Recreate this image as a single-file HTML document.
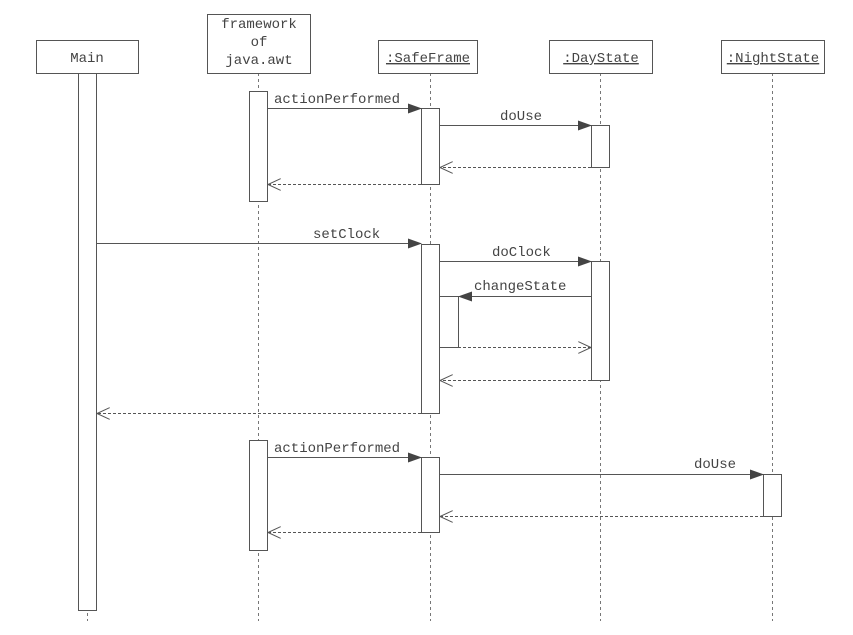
<!DOCTYPE html>
<html><head><meta charset="utf-8"><style>
html,body{margin:0;padding:0;background:#fff;}
svg{display:block;}
text{font-family:"Liberation Mono",monospace;font-size:14px;fill:#444;}
</style></head><body>
<svg width="853" height="635" viewBox="0 0 853 635" xmlns="http://www.w3.org/2000/svg">
<defs>
<marker id="f" markerWidth="14" markerHeight="10" refX="13" refY="5" orient="auto" markerUnits="userSpaceOnUse"><path d="M0,0 L14,5 L0,10 z" fill="#444"/></marker>
<marker id="o" markerWidth="14" markerHeight="12" refX="13" refY="6" orient="auto" markerUnits="userSpaceOnUse"><path d="M0,0 L13,6 L0,12" fill="none" stroke="#555" stroke-width="1"/></marker>
</defs>
<g stroke="#777" stroke-width="1" stroke-dasharray="3,3" fill="none">
<line x1="87.5" y1="73" x2="87.5" y2="621"/>
<line x1="258.5" y1="73" x2="258.5" y2="621"/>
<line x1="430.5" y1="73" x2="430.5" y2="621"/>
<line x1="600.5" y1="73" x2="600.5" y2="621"/>
<line x1="772.5" y1="73" x2="772.5" y2="621"/>
</g>
<g stroke="#555" stroke-width="1" fill="#fff">
<rect x="36.5" y="40.5" width="102" height="33"/>
<rect x="207.5" y="14.5" width="103" height="59"/>
<rect x="378.5" y="40.5" width="99" height="33"/>
<rect x="549.5" y="40.5" width="103" height="33"/>
<rect x="721.5" y="40.5" width="103" height="33"/>
<rect x="78.5" y="73.5" width="18" height="537"/>
<rect x="249.5" y="91.5" width="18" height="110"/>
<rect x="421.5" y="108.5" width="18" height="76"/>
<rect x="591.5" y="125.5" width="18" height="42"/>
<rect x="421.5" y="244.5" width="18" height="169"/>
<rect x="591.5" y="261.5" width="18" height="119"/>
<rect x="439.5" y="296.5" width="19" height="51"/>
<rect x="249.5" y="440.5" width="18" height="110"/>
<rect x="421.5" y="457.5" width="18" height="75"/>
<rect x="763.5" y="474.5" width="18" height="42"/>
</g>
<text x="87" y="62" text-anchor="middle">Main</text>
<text x="259" y="28" text-anchor="middle">framework</text>
<text x="259" y="46" text-anchor="middle">of</text>
<text x="259" y="64" text-anchor="middle">java.awt</text>
<text x="428" y="62" text-anchor="middle" text-decoration="underline">:SafeFrame</text>
<text x="601" y="62" text-anchor="middle" text-decoration="underline">:DayState</text>
<text x="773" y="62" text-anchor="middle" text-decoration="underline">:NightState</text>
<g stroke="#555" stroke-width="1" fill="none">
<line x1="267" y1="108.5" x2="421" y2="108.5" marker-end="url(#f)"/>
<line x1="439" y1="125.5" x2="591" y2="125.5" marker-end="url(#f)"/>
<line x1="591" y1="167.5" x2="440" y2="167.5" stroke-dasharray="3,2" marker-end="url(#o)"/>
<line x1="421" y1="184.5" x2="268" y2="184.5" stroke-dasharray="3,2" marker-end="url(#o)"/>
<line x1="96" y1="243.5" x2="421" y2="243.5" marker-end="url(#f)"/>
<line x1="439" y1="261.5" x2="591" y2="261.5" marker-end="url(#f)"/>
<line x1="591" y1="296.5" x2="459" y2="296.5" marker-end="url(#f)"/>
<line x1="458" y1="347.5" x2="591" y2="347.5" stroke-dasharray="3,2" marker-end="url(#o)"/>
<line x1="439" y1="347.5" x2="458" y2="347.5"/>
<line x1="591" y1="380.5" x2="440" y2="380.5" stroke-dasharray="3,2" marker-end="url(#o)"/>
<line x1="421" y1="413.5" x2="97" y2="413.5" stroke-dasharray="3,2" marker-end="url(#o)"/>
<line x1="267" y1="457.5" x2="421" y2="457.5" marker-end="url(#f)"/>
<line x1="439" y1="474.5" x2="763" y2="474.5" marker-end="url(#f)"/>
<line x1="763" y1="516.5" x2="440" y2="516.5" stroke-dasharray="3,2" marker-end="url(#o)"/>
<line x1="421" y1="532.5" x2="268" y2="532.5" stroke-dasharray="3,2" marker-end="url(#o)"/>
</g>
<text x="274" y="103">actionPerformed</text>
<text x="500" y="120">doUse</text>
<text x="313" y="238">setClock</text>
<text x="492" y="256">doClock</text>
<text x="474" y="290">changeState</text>
<text x="274" y="452">actionPerformed</text>
<text x="694" y="468">doUse</text>
</svg>
</body></html>
